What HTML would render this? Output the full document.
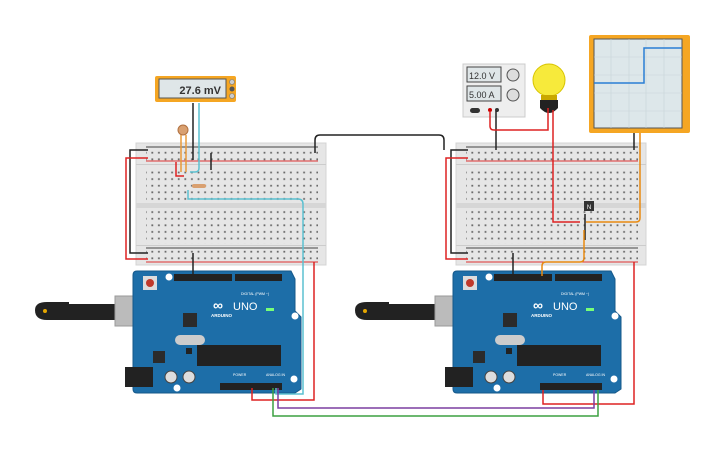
<!DOCTYPE html>
<html><head><meta charset="utf-8"><style>
html,body{margin:0;padding:0;background:#fff;width:725px;height:453px;overflow:hidden}
svg{display:block;font-family:"Liberation Sans",sans-serif}
</style></head><body>
<svg width="725" height="453" viewBox="0 0 725 453" xmlns="http://www.w3.org/2000/svg">
<defs>
<pattern id="dots" x="0" y="0" width="6.6" height="6.6" patternUnits="userSpaceOnUse">
<rect x="2.2" y="2.2" width="1.8" height="1.8" fill="#6a6a6a"/></pattern>
<g id="bb">
<rect x="0" y="0" width="190" height="122" fill="#e6e6e6" stroke="#d4d4d4"/>
<line x1="10" y1="4" x2="182" y2="4" stroke="#444" stroke-width="1"/>
<rect x="10" y="6" width="172" height="12" fill="url(#dots)"/>
<line x1="10" y1="18" x2="182" y2="18" stroke="#d33" stroke-width="1"/>
<rect x="0" y="21" width="190" height="1" fill="#ccc"/>
<rect x="10" y="26" width="172" height="34" fill="url(#dots)"/>
<rect x="0" y="60" width="190" height="5" fill="#d6d6d6"/>
<rect x="10" y="67" width="172" height="34" fill="url(#dots)"/>
<rect x="0" y="102" width="190" height="1" fill="#ccc"/>
<line x1="10" y1="105" x2="182" y2="105" stroke="#444" stroke-width="1"/>
<rect x="10" y="106" width="172" height="12" fill="url(#dots)"/>
<line x1="10" y1="119" x2="182" y2="119" stroke="#d33" stroke-width="1"/>
</g>
<g id="ard">
<path d="M0 4 Q0 0 4 0 H158 L162 8 V40 L168 46 V118 L162 122 H4 Q0 122 0 118 Z" fill="#1d6ea8" stroke="#15588a"/>
<rect x="41" y="3" width="58" height="7" fill="#222"/>
<rect x="102" y="3" width="47" height="7" fill="#222"/>
<rect x="87" y="112" width="46" height="7" fill="#222"/>
<rect x="129" y="112" width="20" height="7" fill="#222"/>
<circle cx="36" cy="6" r="3.5" fill="#fff"/>
<circle cx="162" cy="45" r="3.5" fill="#fff"/>
<circle cx="44" cy="117" r="3.5" fill="#fff"/>
<circle cx="161" cy="108" r="3.5" fill="#fff"/>
<rect x="10" y="5" width="14" height="14" fill="#ddd"/>
<circle cx="17" cy="12" r="4" fill="#c0392b"/>
<rect x="50" y="42" width="14" height="14" fill="#2b2b2b"/>
<rect x="42" y="64" width="30" height="10" rx="5" fill="#ccc"/>
<rect x="64" y="74" width="84" height="21" fill="#222"/>
<rect x="53" y="77" width="6" height="6" fill="#222"/>
<rect x="20" y="80" width="12" height="12" fill="#2b2b2b"/>
<rect x="-8" y="96" width="28" height="20" fill="#222"/>
<circle cx="38" cy="106" r="6" fill="#ddd" stroke="#444"/>
<circle cx="56" cy="106" r="6" fill="#ddd" stroke="#444"/>
<text x="80" y="39" font-size="14" fill="#fff" font-weight="bold">∞</text>
<text x="100" y="39" font-size="11" fill="#fff">UNO</text>
<text x="78" y="46" font-size="4.5" fill="#fff" font-weight="bold">ARDUINO</text>
<text x="108" y="24" font-size="3.5" fill="#fff">DIGITAL (PWM ~)</text>
<text x="100" y="105" font-size="3.5" fill="#fff">POWER</text>
<text x="133" y="105" font-size="3.5" fill="#fff">ANALOG IN</text>
<rect x="133" y="37" width="8" height="3" fill="#7f7"/>
</g>
<g id="usb">
<path d="M0 10 Q0 2 12 2 H34 V20 H12 Q0 20 0 10Z" fill="#222"/>
<rect x="34" y="4" width="48" height="16" fill="#222"/>
<rect x="80" y="-4" width="20" height="30" fill="#bbb" stroke="#999"/>
<circle cx="10" cy="11" r="2" fill="#e5a600"/>
</g>
</defs>

<use href="#bb" x="136" y="143"/>
<use href="#bb" x="456" y="143"/>
<use href="#usb" x="35" y="300"/>
<use href="#usb" x="355" y="300"/>
<use href="#ard" x="133" y="271"/>
<use href="#ard" x="453" y="271"/>

<rect x="155" y="76" width="81" height="26" rx="2" fill="#f5a623"/>
<rect x="159" y="79" width="67" height="19" fill="#dfe6e8" stroke="#555"/>
<text x="221" y="94" font-size="11" font-weight="bold" text-anchor="end" fill="#333">27.6 mV</text>
<circle cx="232" cy="82" r="2.5" fill="#ccc" stroke="#777" stroke-width=".6"/>
<circle cx="232" cy="89" r="2.5" fill="#555"/>
<circle cx="232" cy="96" r="2.5" fill="#ccc" stroke="#777" stroke-width=".6"/>

<rect x="463" y="64" width="62" height="53" fill="#eee" stroke="#ccc"/>
<rect x="467" y="67" width="34" height="15" fill="#dfe6e8" stroke="#444"/>
<rect x="467" y="86" width="34" height="15" fill="#dfe6e8" stroke="#444"/>
<text x="469" y="79" font-size="9" fill="#333">12.0 V</text>
<text x="469" y="98" font-size="9" fill="#333">5.00 A</text>
<circle cx="513" cy="75" r="6" fill="#ddd" stroke="#555"/>
<circle cx="513" cy="95" r="6" fill="#ddd" stroke="#555"/>
<rect x="470" y="108" width="10" height="5" rx="2.5" fill="#333"/>
<circle cx="490" cy="110" r="2" fill="#c00"/><circle cx="497" cy="110" r="2" fill="#333"/>

<circle cx="549" cy="80" r="16" fill="#f7ea3b" stroke="#d8c400"/>
<rect x="541" y="95" width="16" height="5" fill="#c9a800"/>
<path d="M540 100 H558 V108 Q549 118 540 108Z" fill="#222"/>

<rect x="589" y="35" width="101" height="98" rx="2" fill="#f5a623"/>
<rect x="594" y="39" width="88" height="89" fill="#dde7ea" stroke="#555"/>
<g stroke="#c8d4d8" stroke-width=".6">
<line x1="611" y1="39" x2="611" y2="128"/><line x1="629" y1="39" x2="629" y2="128"/><line x1="646" y1="39" x2="646" y2="128"/><line x1="664" y1="39" x2="664" y2="128"/>
<line x1="594" y1="57" x2="682" y2="57"/><line x1="594" y1="75" x2="682" y2="75"/><line x1="594" y1="93" x2="682" y2="93"/><line x1="594" y1="111" x2="682" y2="111"/>
</g>
<polyline points="594,83 644,83 644,48 682,48" fill="none" stroke="#2a7fd4" stroke-width="1.5"/>

<circle cx="183" cy="130" r="5" fill="#d9a070" stroke="#b07040"/>
<line x1="181" y1="135" x2="181" y2="172" stroke="#e89a3a" stroke-width="1.5"/>
<line x1="186" y1="135" x2="186" y2="172" stroke="#e89a3a" stroke-width="1.5"/>
<rect x="192" y="184" width="14" height="4" rx="2" fill="#d9a070"/>
<rect x="584" y="201" width="10" height="10" fill="#333"/>
<text x="589" y="209" font-size="6" fill="#fff" text-anchor="middle">N</text>

<g fill="none" stroke-width="1.5">
<path d="M193 103 V160" stroke="#222"/>
<path d="M148 150 H130 V253 H148" stroke="#222"/>
<path d="M315 153 V140 Q315 135 320 135 H439 Q444 135 444 140 V150" stroke="#222"/>
<path d="M211 153 V170" stroke="#222"/>
<path d="M193 253 V274" stroke="#222"/>
<path d="M496 111 V150" stroke="#222"/>
<path d="M468 150 H451 V253 H468" stroke="#222"/>
<path d="M634 133 V150" stroke="#222"/>
<path d="M513 253 V274" stroke="#222"/>
<path d="M585 214 V240" stroke="#222"/>
<path d="M148 158 H126 V259 H148" stroke="#d22"/>
<path d="M176 162 V176 H184" stroke="#d22"/>
<path d="M468 158 H446 V259 H468" stroke="#d22"/>
<path d="M490 111 V126 Q490 130 494 130 H548 V108" stroke="#d22"/>
<path d="M553 110 V222 H580" stroke="#d22"/>
<path d="M314 262 V400 H252 V388" stroke="#d22"/>
<path d="M634 262 V404 H543 V390" stroke="#d22"/>
<path d="M199 103 V168 Q199 172 195 172 H190" stroke="#5bc0d0"/>
<path d="M188 190 V199 H298 Q303 199 303 204 V394 H276 V388" stroke="#5bc0d0"/>
<path d="M640 133 V218 Q640 222 636 222 H586" stroke="#e88a10"/>
<path d="M584 230 V258 Q584 262 580 262 H546 Q542 262 542 266 V276" stroke="#e88a10"/>
<path d="M278 388 V408 H594 V390" stroke="#7b3fa0"/>
<path d="M273 388 V416 H598 V390" stroke="#3ca040"/>
</g>
</svg>
</body></html>
